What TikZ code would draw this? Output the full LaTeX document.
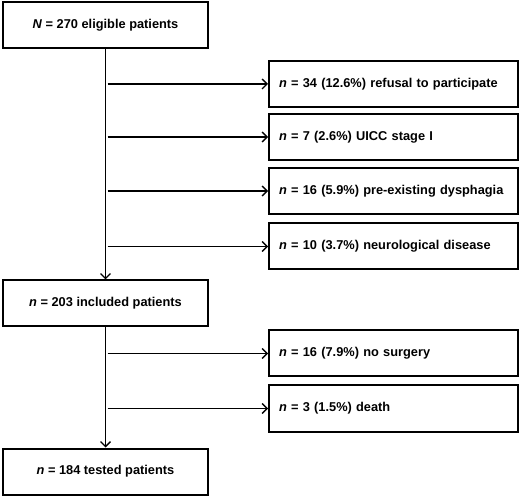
\documentclass[tikz,border=0pt]{standalone}
\usepackage{fontspec}
\setmainfont{Liberation Sans}
\usetikzlibrary{arrows.meta}
\begin{document}
\begin{tikzpicture}[x=1pt,y=-1pt,
  lbox/.style={draw, line width=2pt, minimum width=205pt, minimum height=46pt, inner sep=0pt, font=\fontsize{12.8}{15}\selectfont\bfseries},
  rbox/.style={draw, line width=2pt, minimum width=249pt, minimum height=46pt, text width=229pt, align=left, inner xsep=10pt, inner ysep=0pt, font=\fontsize{12.8}{15}\selectfont\bfseries},
  arr/.style={line width=1.4pt, -{Straight Barb[length=5pt,width=10pt,line width=1.4pt]}}]
\useasboundingbox (0,0) rectangle (520,497);
\node[lbox] (top) at (105.5,25.5) {\textit{N} = 270 eligible patients};
\node[lbox] (mid) at (105.5,303.5) {\textit{n} = 203 included patients};
\node[lbox] (bot) at (105.5,471.5) {\textit{n} = 184 tested patients};
\node[rbox] (r1) at (393.5,84) {\textit{n} = 34 (12.6\%) refusal to participate};
\node[rbox] (r2) at (393.5,137) {\textit{n} = 7 (2.6\%) UICC stage I};
\node[rbox] (r3) at (393.5,191) {\textit{n} = 16 (5.9\%) pre-existing dysphagia};
\node[rbox] (r4) at (393.5,246.5) {\textit{n} = 10 (3.7\%) neurological disease};
\node[rbox] (r5) at (393.5,353.5) {\textit{n} = 16 (7.9\%) no surgery};
\node[rbox] (r6) at (393.5,408.5) {\textit{n} = 3 (1.5\%) death};
\coordinate (c1) at (107.5,84);
\coordinate (c2) at (107.5,137);
\coordinate (c3) at (107.5,191);
\coordinate (c4) at (107.5,246.5);
\coordinate (c5) at (107.5,353.5);
\coordinate (c6) at (107.5,408.5);
\draw[arr] (top.south) -- (mid.north);
\draw[arr] (mid.south) -- (bot.north);
\foreach \i in {1,...,6} \draw[arr] (c\i) -- (r\i.west);
\end{tikzpicture}
\end{document}
